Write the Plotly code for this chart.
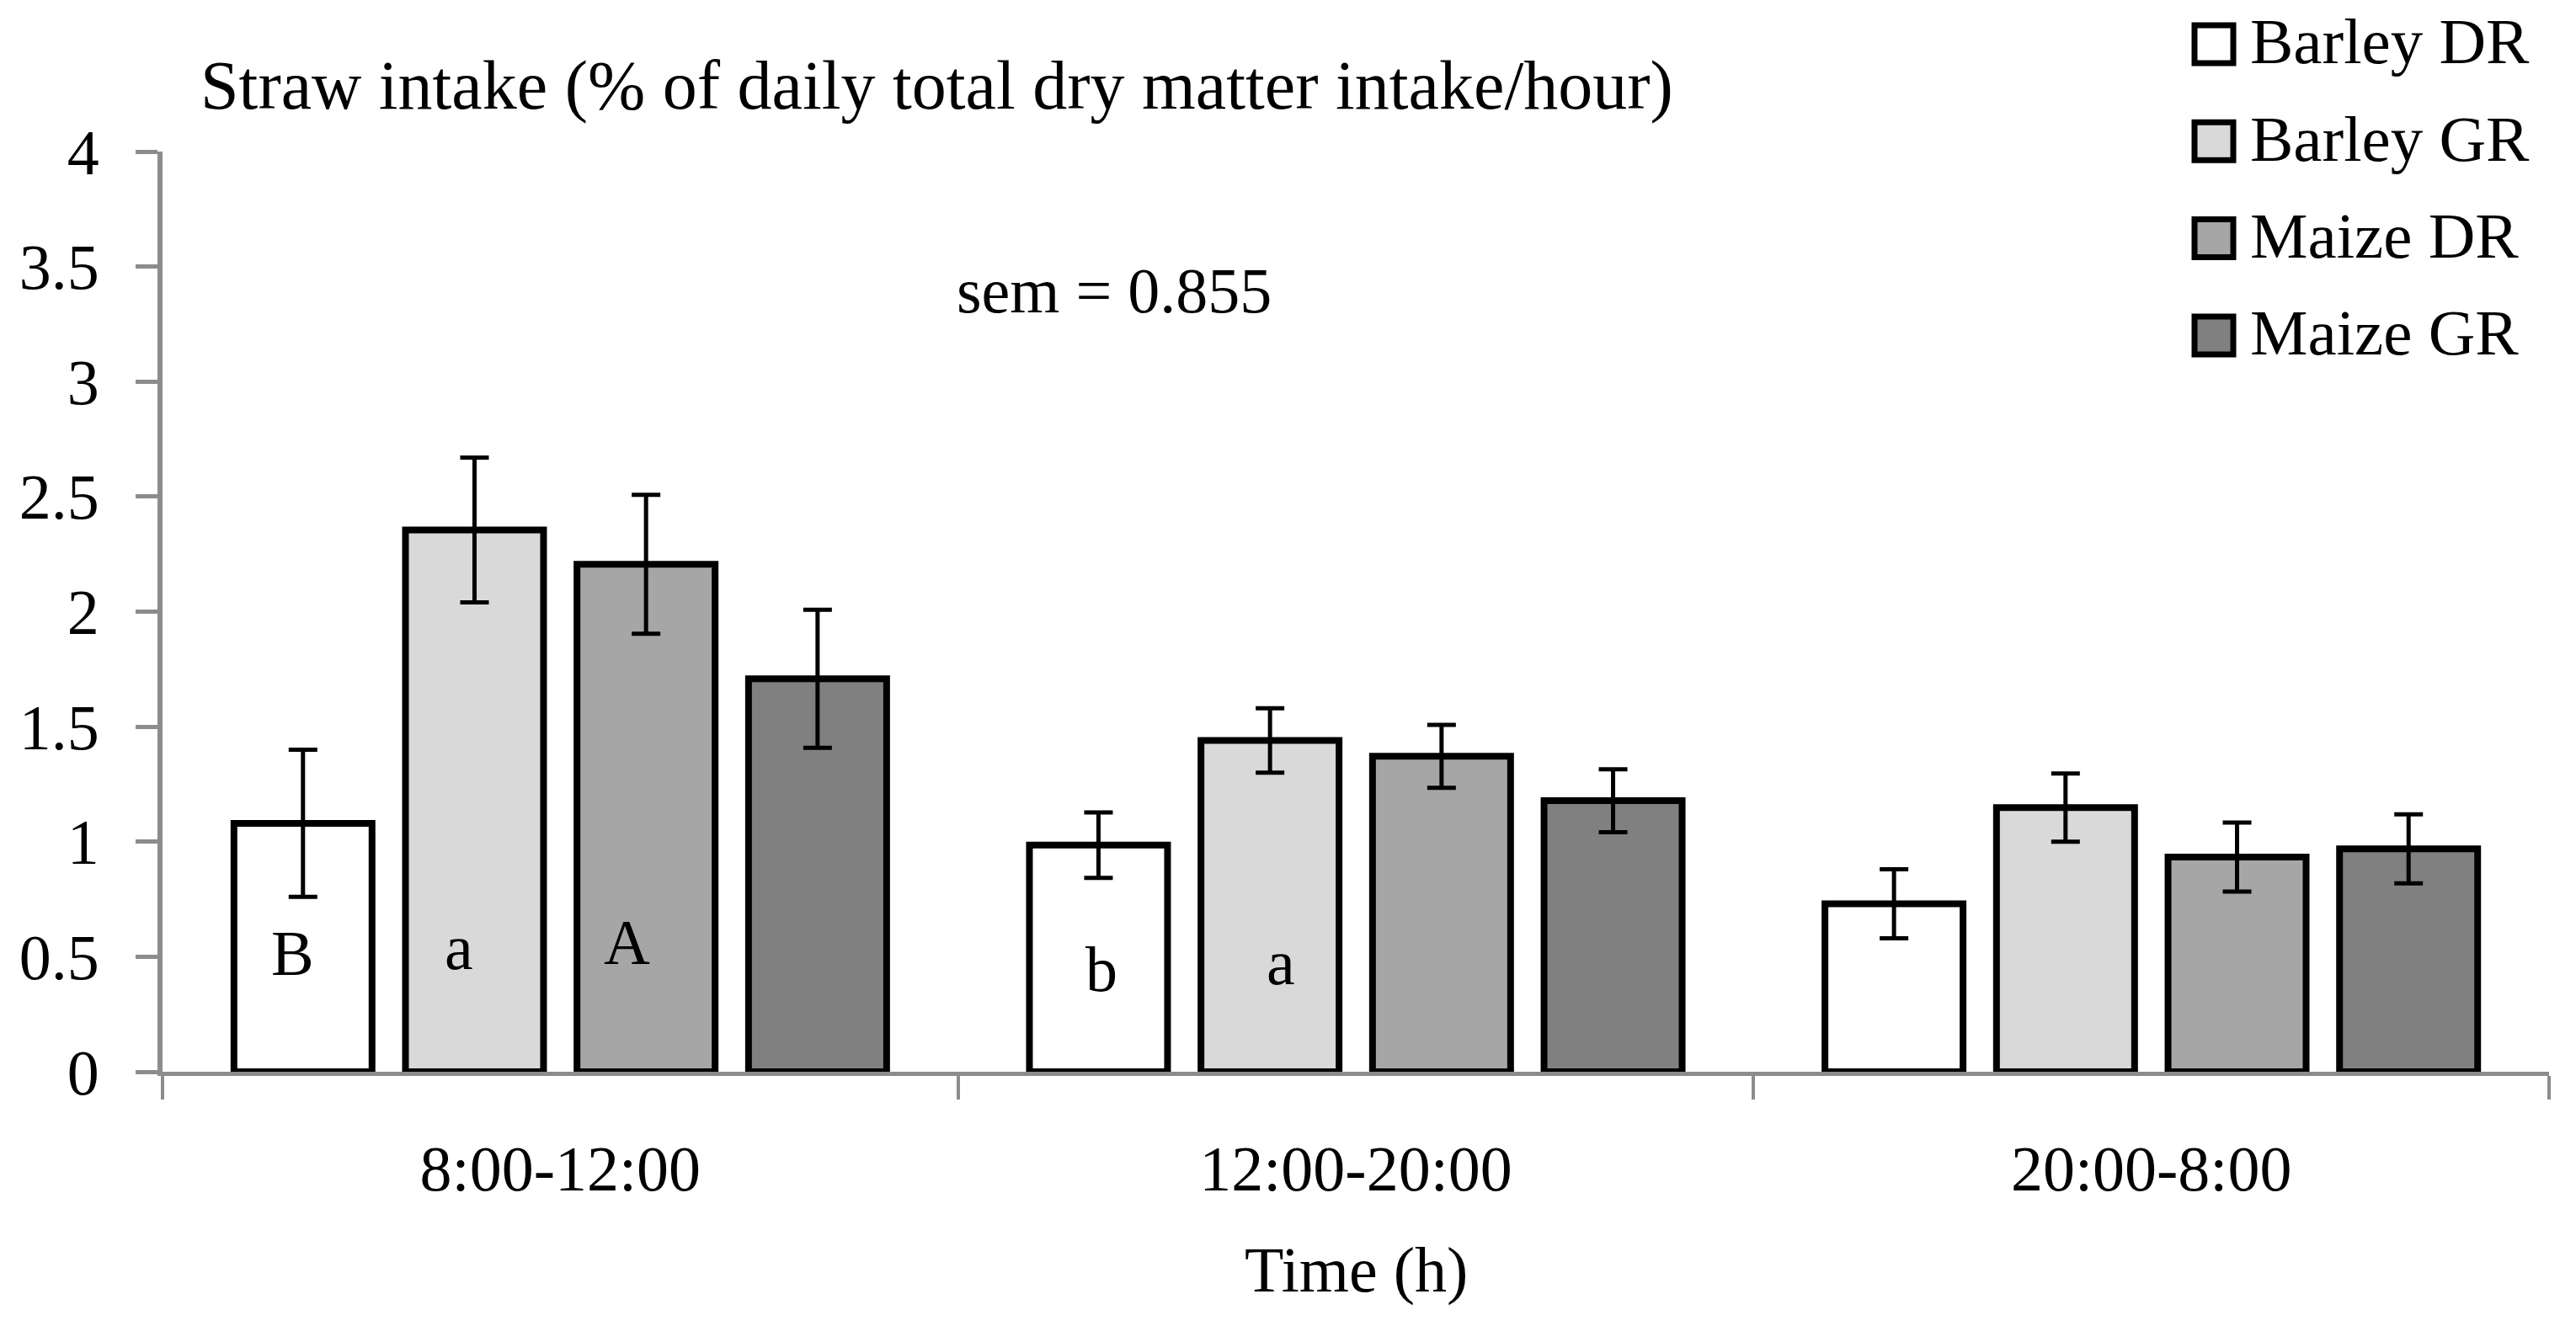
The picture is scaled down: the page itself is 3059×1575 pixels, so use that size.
import plotly.graph_objects as go

# ---------------- data ----------------
categories = ["8:00-12:00", "12:00-20:00", "20:00-8:00"]
series_names = ["Barley DR", "Barley GR", "Maize DR", "Maize GR"]

barley_dr = [1.08, 0.985, 0.73]
barley_gr = [2.355, 1.44, 1.148]
maize_dr = [2.206, 1.371, 0.933]
maize_gr = [1.708, 1.178, 0.969]

barley_dr_err = [0.32, 0.142, 0.15]
barley_gr_err = [0.315, 0.14, 0.148]
maize_dr_err = [0.302, 0.137, 0.15]
maize_gr_err = [0.30, 0.137, 0.15]

series_colors = ["#FFFFFF", "#D9D9D9", "#A6A6A6", "#808080"]

y_tick_values = [0, 0.5, 1, 1.5, 2, 2.5, 3, 3.5, 4]
y_tick_labels = ["0", "0.5", "1", "1.5", "2", "2.5", "3", "3.5", "4"]

# significance letters
letter_series = [0, 1, 2, 0, 1]
letter_category = [0, 0, 0, 1, 1]
letter_text = ["B", "a", "A", "b", "a"]
letter_y = [0.515, 0.540, 0.562, 0.445, 0.475]
letter_dx = [-12, -18, -23, 4, 13]

title_text = "Straw intake (% of daily total dry matter intake/hour)"
x_title = "Time (h)"
sem_text = "sem = 0.855"

# ---------------- layout constants ----------------
W, H = 3059, 1575
ML, MR, MT, MB = 193, 32, 180, 302
PW = W - ML - MR
PH = H - MT - MB
FONT = "Liberation Serif"
FS = 76
TITLE_FS = 82
AXIS_GRAY = "#8C8C8C"
BARGAP = 0.1375
BARGROUPGAP = 0.195

values = [barley_dr, barley_gr, maize_dr, maize_gr]
errors = [barley_dr_err, barley_gr_err, maize_dr_err, maize_gr_err]

fig = go.Figure()
for name, vals, errs, col in zip(series_names, values, errors, series_colors):
    fig.add_trace(go.Bar(
        name=name, x=categories, y=vals,
        marker=dict(color=col, line=dict(color="black", width=8)),
        error_y=dict(type="data", array=errs, visible=True,
                     color="black", thickness=5, width=17),
        showlegend=False,
    ))


def px_to_paper_x(px):
    return (px - ML) / PW


def px_to_paper_y(py):
    return (H - MB - py) / PH


annotations = []
annotations.append(dict(text=title_text, xref="paper", yref="paper",
                        x=px_to_paper_x(236), y=px_to_paper_y(102),
                        xanchor="left", yanchor="middle", showarrow=False,
                        font=dict(family=FONT, size=TITLE_FS, color="black")))
annotations.append(dict(text=x_title, xref="paper", yref="paper",
                        x=0.5, y=px_to_paper_y(1508),
                        xanchor="center", yanchor="middle", showarrow=False,
                        font=dict(family=FONT, size=FS, color="black")))
annotations.append(dict(text=sem_text, xref="x", yref="y",
                        x=0.696, y=3.395,
                        xanchor="center", yanchor="middle", showarrow=False,
                        font=dict(family=FONT, size=FS, color="black")))

cat_px = PW / len(categories)
slot_px = cat_px * (1 - BARGAP) / len(series_names)
for s, c, t, yv, dx in zip(letter_series, letter_category, letter_text, letter_y, letter_dx):
    annotations.append(dict(text=t, xref="x", yref="y", x=c, y=yv,
                            xshift=(s - (len(series_names) - 1) / 2) * slot_px + dx,
                            xanchor="center", yanchor="middle", showarrow=False,
                            font=dict(family=FONT, size=FS, color="black")))

# manual legend with large swatches
shapes = []
LEG_BOX_L, LEG_BOX_R = 2606, 2652
LEG_TOP0, LEG_STEP, LEG_BOX = 30, 115.3, 45
LEG_TEXT_X = 2670
for i, (name, col) in enumerate(zip(series_names, series_colors)):
    top = LEG_TOP0 + i * LEG_STEP
    shapes.append(dict(type="rect", xref="paper", yref="paper",
                       x0=px_to_paper_x(LEG_BOX_L), x1=px_to_paper_x(LEG_BOX_R),
                       y0=px_to_paper_y(top), y1=px_to_paper_y(top + LEG_BOX),
                       fillcolor=col, line=dict(color="black", width=7)))
    annotations.append(dict(text=name, xref="paper", yref="paper",
                            x=px_to_paper_x(LEG_TEXT_X), y=px_to_paper_y(top + LEG_BOX / 2 - 3),
                            xanchor="left", yanchor="middle", showarrow=False,
                            font=dict(family=FONT, size=FS + 1, color="black")))

fig.update_layout(
    width=W, height=H,
    margin=dict(l=ML, r=MR, t=MT, b=MB, autoexpand=False),
    paper_bgcolor="white", plot_bgcolor="white",
    barmode="group", bargap=BARGAP, bargroupgap=BARGROUPGAP,
    font=dict(family=FONT, size=FS, color="black"),
    annotations=annotations, shapes=shapes,
    showlegend=False,
    xaxis=dict(
        type="category", range=[-0.5, len(categories) - 0.5],
        showline=True, linecolor=AXIS_GRAY, linewidth=5,
        ticks="outside", tickson="boundaries", ticklen=28, tickwidth=4,
        tickcolor=AXIS_GRAY, showgrid=False, zeroline=False,
        tickfont=dict(family=FONT, size=FS, color="black"),
        ticklabelstandoff=45, automargin=False,
    ),
    yaxis=dict(
        range=[0, 4], tickvals=y_tick_values, ticktext=y_tick_labels,
        showline=True, linecolor=AXIS_GRAY, linewidth=6,
        ticks="outside", ticklen=26, tickwidth=5, tickcolor=AXIS_GRAY,
        showgrid=False, zeroline=False,
        tickfont=dict(family=FONT, size=FS, color="black"),
        ticklabelstandoff=28, automargin=False,
    ),
)

fig.write_html("out.html")
